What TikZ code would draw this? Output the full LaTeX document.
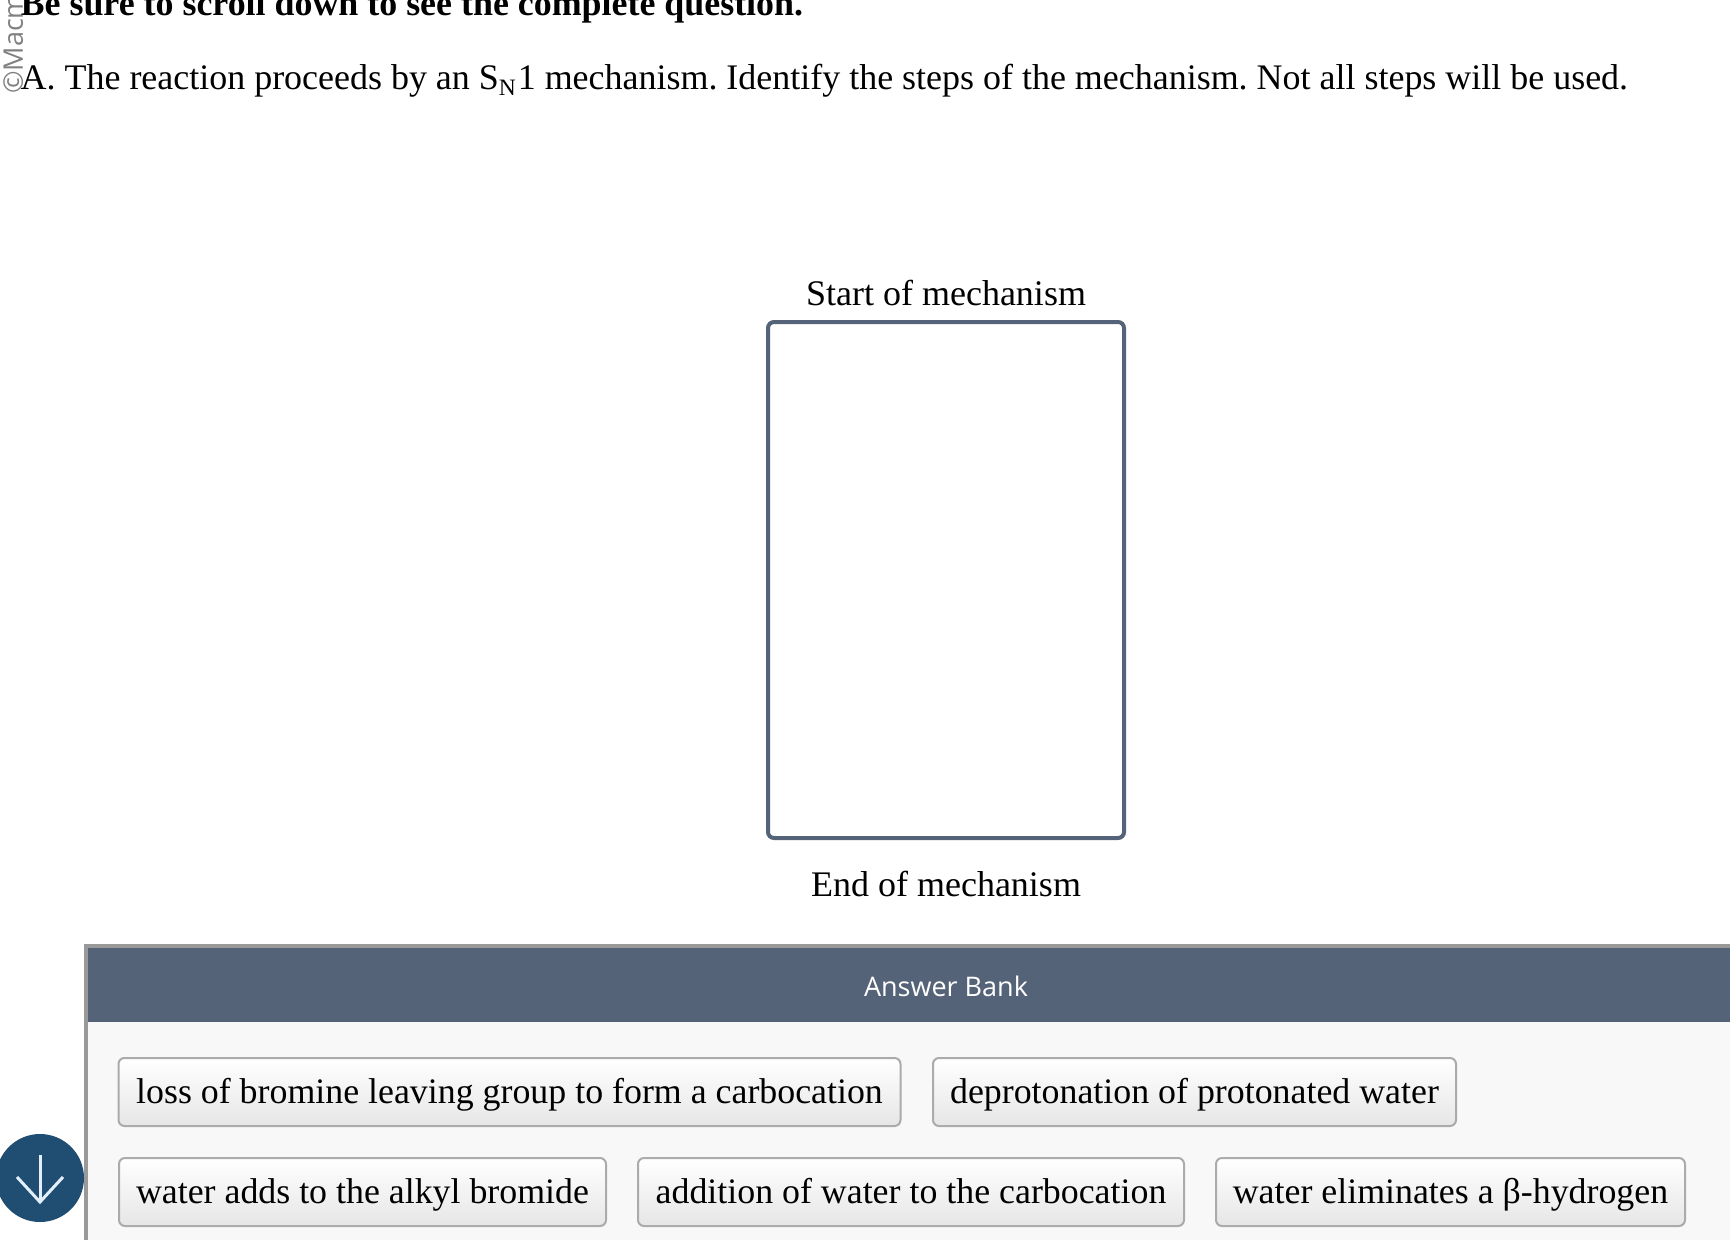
\documentclass[tikz,border=0pt]{standalone}
\usepackage{fontspec}
\setmainfont{Liberation Serif}
\newfontfamily\uifont{Open Sans}
\newfontfamily\markfont{Open Sans}
\usetikzlibrary{calc}
\definecolor{slate}{HTML}{556378}
\definecolor{panelbg}{HTML}{F8F8F8}
\definecolor{panelline}{HTML}{999999}
\definecolor{btnline}{HTML}{ABABAB}
\definecolor{btnbot}{HTML}{E6E6E6}
\definecolor{circ}{HTML}{204D72}
\definecolor{arrowc}{HTML}{E3F0FB}
\definecolor{wm}{HTML}{808080}
\frenchspacing
\tikzset{
  body/.style={font=\fontsize{36}{40}\selectfont, inner sep=0pt, text=black},
  btn/.style={body, font=\fontsize{35.85}{40}\selectfont, rounded corners=6pt, draw=btnline, line width=2pt, top color=white, bottom color=btnbot, minimum height=68pt, anchor=center, text depth=2pt},
  txt/.style={body, anchor=base west},
}
\begin{document}
\begin{tikzpicture}[x=1pt,y=-1pt]
\useasboundingbox (0,0) rectangle (1730,1240);
\fill[white] (0,0) rectangle (1730,1240);
% panel
\fill[panelbg] (85,945) rectangle (1730,1240);
\fill[slate] (85,945) rectangle (1730,1021.5);
\draw[panelline, line width=4pt] (86,1240) -- (86,946) -- (1730,946);
% texts
\node[txt, font=\fontsize{35.9}{40}\selectfont\bfseries] (t1) at (20.5,15.5) {Be sure to scroll down to see the complete question.};
\node[txt, font=\fontsize{35.95}{40}\selectfont] (t2) at (20.5,89) {A. The reaction proceeds by an S\raisebox{-6pt}{\fontsize{23.5}{24}\selectfont N}\kern2pt 1 mechanism. Identify the steps of the mechanism. Not all steps will be used.};
\node[anchor=base west, rotate=90, inner sep=0pt, text=wm, font=\markfont\fontsize{27}{28}\selectfont] (wm) at (23,94) {©Macm};
% drop box
\node[draw=slate, line width=4pt, rounded corners=6pt, fill=white, minimum width=356pt, minimum height=516pt, inner sep=0pt] (box) at (946,580) {};
\node[body, anchor=base] (start) at (946,305) {Start of mechanism};
\node[body, anchor=base] (end) at (946,896) {End of mechanism};
\node[anchor=center, text=white, inner sep=0pt, font=\uifont\fontsize{27}{30}\selectfont] (bank) at (946,986) {Answer Bank};
% buttons
\node[btn, minimum width=782pt] (b1) at (509.5,1092) {loss of bromine leaving group to form a carbocation};
\node[btn, minimum width=523pt] (b2) at (1194.5,1092) {deprotonation of protonated water};
\node[btn, minimum width=487pt] (b3) at (362.5,1192) {water adds to the alkyl bromide};
\node[btn, minimum width=546pt] (b4) at (911,1192) {addition of water to the carbocation};
\node[btn, minimum width=469pt] (b5) at (1450.5,1192) {water eliminates a β-hydrogen};
% scroll button
\node[circle, fill=circ, minimum size=88pt, inner sep=0pt] (scroll) at (40,1178) {};
\coordinate (atop) at (40,1155);
\coordinate (atip) at (40,1202);
\coordinate (al) at (17,1177);
\coordinate (ar) at (63,1177);
\draw[arrowc, line width=3pt] (atop) -- (atip);
\draw[arrowc, line width=3pt] (al) -- (atip) -- (ar);
\end{tikzpicture}
\end{document}
